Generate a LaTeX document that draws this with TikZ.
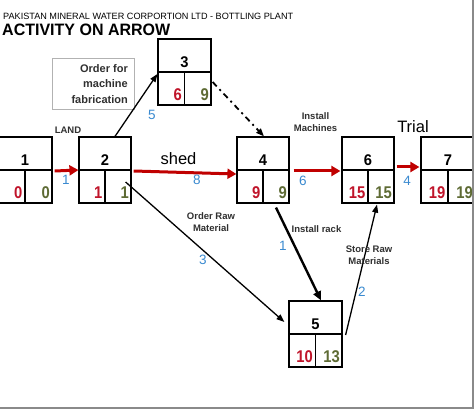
\documentclass[tikz,border=0pt]{standalone}
\usepackage{fontspec}
\setmainfont{Liberation Sans}
\usepackage{graphicx}
\usetikzlibrary{arrows.meta,calc}
\definecolor{numred}{HTML}{C0142A}
\definecolor{numgrn}{HTML}{5E6B34}
\definecolor{lblue}{HTML}{3A8AD0}
\definecolor{arred}{HTML}{C00000}
\definecolor{lbltxt}{HTML}{303030}
\definecolor{framegray}{HTML}{8A8A8A}
\newcommand{\nx}[2]{\scalebox{#1}[1]{#2}}
\tikzset{
  evbox/.style={draw, line width=1.2pt, minimum height=66pt, inner sep=0pt},
  boxline/.style={line width=1.2pt},
  topnum/.style={font=\fontsize{15.5}{15.5}\selectfont\bfseries, inner sep=0pt},
  botred/.style={font=\fontsize{17}{17}\selectfont\bfseries, text=numred, inner sep=0pt, anchor=east},
  botgrn/.style={font=\fontsize{17}{17}\selectfont\bfseries, text=numgrn, inner sep=0pt, anchor=east},
  durlbl/.style={font=\fontsize{13.5}{13.5}\selectfont, text=lblue, inner sep=0pt},
  actlbl/.style={font=\fontsize{9.5}{12}\selectfont\bfseries, text=lbltxt, align=center, inner sep=0pt},
  bigarrow/.style={draw=arred, line width=3pt, -{Triangle[length=9pt,width=10pt]}},
  thinarrow/.style={draw=black, line width=1.3pt, -{Triangle[length=8pt,width=6pt]}},
}
\newcommand{\EvNode}[7]{%
  \node[evbox, minimum width=#4pt] (#1) at (#2,#3) {};
  \draw[boxline] (#1.west) -- (#1.east);
  \draw[boxline] (#1.center) -- (#1.south);
  \node[topnum] (#1top) at ($(#1.north)!0.5!(#1.center)+(0,7)$) {\nx{0.95}{#5}};
  \node[botred] (#1l) at ($(#1.south)!0.5!(#1.center)+(-2.5,6)$) {\nx{0.87}{#6}};
  \node[botgrn] (#1r) at ($(#1.south east)!0.5!(#1.east)+(-2.5,6)$) {\nx{0.87}{#7}};
}
\begin{document}
\begin{tikzpicture}[x=1pt,y=-1pt]
\useasboundingbox (0,0) rectangle (474,409);
\fill[white] (0,0) rectangle (474,409);

% titles
\node[anchor=west, inner sep=0pt, font=\fontsize{10.5}{10.5}\selectfont] (sub) at (3,16)
  {\resizebox{290pt}{!}{\nx{1}{PAKISTAN MINERAL WATER CORPORTION LTD - BOTTLING PLANT}}};
\node[anchor=west, inner sep=0pt, font=\fontsize{16.5}{16.5}\selectfont\bfseries] (title) at (2,30)
  {\nx{0.97}{ACTIVITY ON ARROW}};

% note box
\node[draw=gray!60, line width=0.8pt, minimum width=82pt, minimum height=51pt, inner sep=0pt] (note) at (93,83.5) {};
\node[anchor=east, align=right, inner sep=0pt, font=\fontsize{11}{15.5}\selectfont\bfseries, text=lbltxt] (notetxt) at (128,84)
  {Order for\\machine\\fabrication};

% event nodes
\EvNode{n1}{25}{170}{54}{1}{0}{0}
\EvNode{n2}{105}{170}{52}{2}{1}{1}
\EvNode{n3}{184.5}{72}{53}{3}{6}{9}
\EvNode{n4}{263}{170}{52}{4}{9}{9}
\EvNode{n5}{315.5}{334}{53}{5}{10}{13}
\EvNode{n6}{368}{170}{52}{6}{15}{15}
\EvNode{n7}{448}{170}{54}{7}{19}{19}

% red critical arrows
\draw[bigarrow] ([xshift=2pt,yshift=-1pt]n1.east) -- (n2.west);
\draw[bigarrow] ([xshift=2pt,yshift=-1pt]n2.east) -- ([yshift=-4pt]n4.west);
\draw[bigarrow] ([xshift=4pt,yshift=-1pt]n4.east) -- ([xshift=-1pt,yshift=-1pt]n6.west);
\draw[bigarrow] ([xshift=2pt,yshift=3pt]n6.east) -- ([xshift=-1pt,yshift=3pt]n7.west);

% black arrows
\draw[thinarrow] ([xshift=10pt]n2.north) -- ([yshift=-2pt]n3.west);
\draw[thinarrow, line width=1.8pt, dash pattern=on 6pt off 4pt on 2pt off 4pt] ([xshift=1pt,yshift=-10pt]n3.east) -- ([xshift=1pt]n4.north);
\draw[thinarrow] ([xshift=-6pt,yshift=-12pt]n2.east) -- ([xshift=-4pt,yshift=12pt]n5.west);
\draw[thinarrow, line width=2.4pt, -{Triangle[length=9pt,width=8pt]}] ([xshift=13pt,yshift=-4pt]n4.south) -- ([xshift=5.5pt]n5.north);
\draw[thinarrow] ([xshift=3pt,yshift=-1pt]n5.east) -- ([xshift=9pt,yshift=-1pt]n6.south);

% activity labels
\node[actlbl] (land) at (68,130) {LAND};
\node[durlbl] (d12) at (66,180) {1};
\node[durlbl] (d23) at (152,115) {5};
\node[font=\fontsize{16.5}{16.5}\selectfont, inner sep=0pt] (shed) at (178.5,159) {shed};
\node[durlbl] (d24) at (197,180) {8};
\node[actlbl] (instm) at (315.5,122) {Install\\Machines};
\node[durlbl] (d46) at (303,181) {6};
\node[font=\fontsize{16.5}{16.5}\selectfont, inner sep=0pt] (trial) at (413,126.5) {Trial};
\node[durlbl] (d67) at (407,181) {4};
\node[actlbl] (orm) at (211,222) {Order Raw\\Material};
\node[durlbl] (d25) at (203,260) {3};
\node[actlbl] (rack) at (316.5,229.5) {Install rack};
\node[durlbl] (d45) at (283,246) {1};
\node[actlbl] (srm) at (369,255.5) {Store Raw\\Materials};
\node[durlbl] (d56) at (362,292) {2};

% frame bars
\fill[framegray] (471.5,0) rectangle (474,409);
\fill[framegray] (0,406.5) rectangle (474,409);
\end{tikzpicture}
\end{document}
